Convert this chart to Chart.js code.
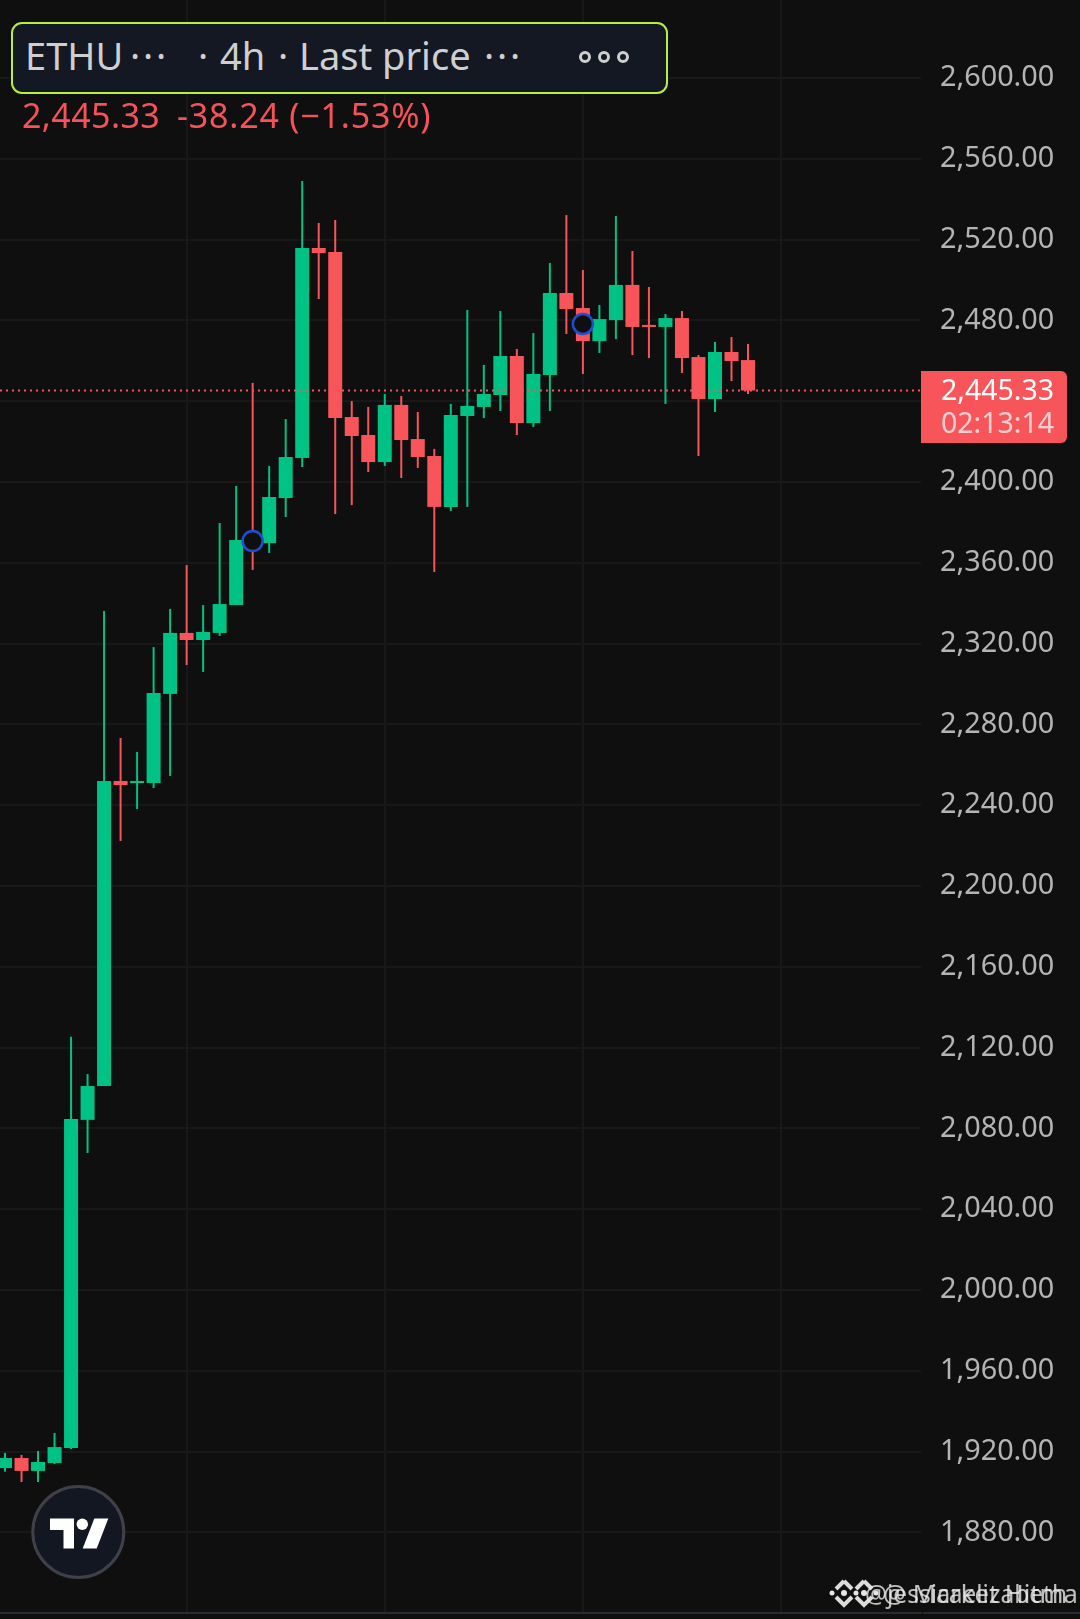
<!DOCTYPE html>
<html>
<head>
<meta charset="utf-8">
<title>ETHUSDT 4h</title>
<script src="https://cdn.jsdelivr.net/npm/chart.js@4"></script>
<style>
    html, body { margin: 0; padding: 0; background: #0f0f0f; }
    #wrap { position: relative; width: 1080px; height: 1619px; overflow: hidden; font-family: "Noto Sans", sans-serif; }
    #priceChart { position: absolute; left: 0; top: 0; }
    .abs { position: absolute; white-space: nowrap; }
    #titleBox { left: 11px; top: 22px; width: 653px; height: 68px; background: #131822; border: 2px solid #b5f03c; border-radius: 11px; }
    .title { color: #cfcfcf; font-size: 38px; line-height: 50px; top: 30px; }
    .ring { width: 6px; height: 6px; top: 51px; border: 3px solid #cfcfcf; border-radius: 50%; }
    .change { color: #f7525a; font-size: 34px; line-height: 44px; top: 93px; }
    #tag { left: 921px; top: 371px; width: 146px; height: 72px; background: #f7555a; border-radius: 0 6px 6px 0; }
    .tagText { left: 941px; font-size: 28.5px; line-height: 34px; }
    .mark { color: #ececec; font-size: 26px; line-height: 34px; top: 1577px; font-family: "Noto Sans", sans-serif; }
    #axisEnd { left: 923px; right: 0; top: 1612px; height: 2px; background: #2a2a30; }
</style>
</head>
<body>
<div id="wrap">
    <canvas id="priceChart" width="1080" height="1619"></canvas>

    <div id="titleBox" class="abs"></div>
    <div class="abs title" style="left:25px">ETHU</div>
    <div class="abs title" style="left:130px;letter-spacing:2.8px">···</div>
    <div class="abs title" style="left:198px">·</div>
    <div class="abs title" style="left:220px">4h</div>
    <div class="abs title" style="left:278px">·</div>
    <div class="abs title" style="left:299px">Last price</div>
    <div class="abs title" style="left:484px;letter-spacing:2.8px">···</div>
    <div class="abs ring" style="left:579px"></div>
    <div class="abs ring" style="left:598px"></div>
    <div class="abs ring" style="left:617px"></div>

    <div class="abs change" style="left:22px;letter-spacing:.4px">2,445.33</div>
    <div class="abs change" style="left:177px;letter-spacing:.8px">-38.24 (−1.53%)</div>

    <div id="tag" class="abs"></div>
    <div class="abs tagText" style="top:372px;color:#fff">2,445.33</div>
    <div class="abs tagText" style="top:405px;color:rgba(255,255,255,.72)">02:13:14</div>

    <div id="axisEnd" class="abs"></div>

    <svg class="abs" style="left:0;top:1480px" width="160" height="110" viewBox="0 1480 160 110">
        <circle cx="78.3" cy="1532" r="45.5" fill="#131722" stroke="#3f4048" stroke-width="3"/>
        <path d="M50 1518.5H74V1548.5H63.5V1530H50Z" fill="#fff"/>
        <circle cx="82.3" cy="1524.3" r="5.7" fill="#fff"/>
        <path d="M94.3 1518.5H108.3L96.7 1548.5H82.7Z" fill="#fff"/>
    </svg>

    <svg class="abs" style="left:828px;top:1575px" width="70" height="36" viewBox="0 0 70 36">
        <g fill="none" stroke="#dcdcdc" stroke-width="4">
            <path d="M16 6L8 14M16 6L24 14M8 22L16 30L24 22"/>
            <path d="M36 6L28 14M36 6L44 14M28 22L36 30L44 22"/>
        </g>
        <g fill="#e6e6e6">
            <circle cx="16" cy="18" r="3"/><circle cx="4" cy="18" r="2.5"/><circle cx="28" cy="18" r="2.5"/>
            <circle cx="36" cy="18" r="3"/><circle cx="48" cy="18" r="2.5"/>
        </g>
    </svg>
    <div class="abs mark" style="left:865px;opacity:.8;font-size:24.5px">@jessicaelizabeth</div>
    <div class="abs mark" style="left:883px;opacity:.8;font-size:25.6px">@ Market Hitmah</div>
</div>

<script>
    const candleIndex = [0, 1, 2, 3, 4, 5, 6, 7, 8, 9, 10, 11, 12, 13, 14, 15, 16, 17, 18, 19, 20, 21, 22,
        23, 24, 25, 26, 27, 28, 29, 30, 31, 32, 33, 34, 35, 36, 37, 38, 39, 40, 41, 42, 43, 44, 45];

    const opens = [1911.8, 1916.8, 1910.4, 1914.3, 1921.8, 2084.2, 2101.0, 2252.0, 2251.0, 2251.0, 2295.1, 2325.3,
        2321.8, 2325.3, 2339.1, 2374.3, 2369.8, 2392.1, 2411.9, 2515.9, 2513.9, 2432.2, 2423.3, 2409.9, 2438.2,
        2421.3, 2412.9, 2387.7, 2432.7, 2437.2, 2443.1, 2462.4, 2429.2, 2453.0, 2493.6, 2486.2, 2469.8, 2480.2,
        2497.6, 2477.8, 2476.8, 2481.2, 2461.9, 2441.1, 2464.4, 2460.4];
    const highs = [1919.3, 1918.3, 1920.3, 1929.2, 2125.4, 2106.9, 2336.2, 2273.3, 2266.4, 2318.3, 2337.2, 2358.9,
        2339.1, 2379.7, 2398.1, 2449.1, 2408.0, 2431.2, 2549.1, 2528.3, 2529.8, 2440.1, 2437.2, 2443.6, 2442.6,
        2434.7, 2416.4, 2438.7, 2485.2, 2458.0, 2484.7, 2465.9, 2473.8, 2508.5, 2532.2, 2505.0, 2487.7, 2531.7,
        2514.4, 2496.6, 2483.2, 2484.7, 2462.9, 2469.4, 2471.8, 2468.4];
    const lows = [1910.0, 1904.9, 1904.9, 1913.8, 1921.3, 2067.8, 2101.0, 2222.3, 2238.1, 2248.5, 2254.5, 2309.4,
        2306.0, 2323.8, 2339.1, 2356.5, 2364.9, 2382.7, 2407.5, 2490.6, 2384.2, 2388.6, 2405.0, 2408.0, 2402.0,
        2407.0, 2355.5, 2385.7, 2387.7, 2431.7, 2435.2, 2423.3, 2427.3, 2435.2, 2473.3, 2453.5, 2463.9, 2470.8,
        2462.9, 2461.4, 2438.7, 2454.0, 2412.9, 2434.7, 2450.0, 2443.6];
    const closes = [1916.8, 1910.4, 1914.8, 1922.2, 2084.6, 2101.0, 2252.0, 2250.0, 2252.0, 2295.6, 2325.3, 2321.8,
        2325.8, 2339.6, 2371.3, 2368.3, 2392.6, 2412.4, 2515.9, 2513.4, 2431.7, 2422.8, 2409.9, 2438.2, 2420.8,
        2412.4, 2387.7, 2433.2, 2437.7, 2443.6, 2462.4, 2429.2, 2453.5, 2493.6, 2485.7, 2469.8, 2480.7, 2497.6,
        2476.8, 2476.8, 2481.2, 2461.4, 2441.1, 2464.4, 2459.9, 2445.33];

    const priceTicks = [2600, 2560, 2520, 2480, 2440, 2400, 2360, 2320, 2280, 2240, 2200, 2160, 2120, 2080,
        2040, 2000, 1960, 1920, 1880];
    const timeTicks = [11, 23, 35, 47];
    const markerIndex = [15, 35];
    const markerPrice = [2370.8, 2478.3];
    const lastPrice = 2445.33;

    const upColor = "#00c285";
    const downColor = "#f7555a";
    const gridColor = "#181818";

    // visible window of the axes, taken from the gridline spacing in the picture
    const xMin = -0.303, xMax = 55.478;
    const yMin = 1840.05, yMax = 2638.68;

    const barColors = candleIndex.map(i => closes[i] >= opens[i] ? upColor : downColor);

    new Chart(document.getElementById("priceChart").getContext("2d"), {
        data: {
            datasets: [
                {
                    type: "bar",
                    label: "Wicks",
                    data: candleIndex.map(i => ({ x: i, y: [lows[i], highs[i]] })),
                    backgroundColor: barColors,
                    barThickness: 2,
                    grouped: false,
                    inflateAmount: 0,
                    order: 4
                },
                {
                    type: "bar",
                    label: "Bodies",
                    data: candleIndex.map(i => ({ x: i, y: [opens[i], closes[i]] })),
                    backgroundColor: barColors,
                    barThickness: 14,
                    grouped: false,
                    inflateAmount: 0,
                    order: 3
                },
                {
                    type: "line",
                    label: "Last price",
                    data: [{ x: xMin, y: lastPrice }, { x: xMax, y: lastPrice }],
                    borderColor: downColor,
                    borderWidth: 2,
                    borderDash: [2, 4],
                    pointRadius: 0,
                    order: 2
                },
                {
                    type: "scatter",
                    label: "Markers",
                    data: markerIndex.map((x, i) => ({ x: x, y: markerPrice[i] })),
                    pointRadius: 10,
                    pointBorderWidth: 2.5,
                    pointBorderColor: "#1f4fd1",
                    pointBackgroundColor: "#0f0f0f",
                    order: 1
                }
            ]
        },
        options: {
            responsive: false,
            animation: false,
            events: [],
            layout: { padding: 0, autoPadding: false },
            plugins: {
                legend: { display: false },
                tooltip: { enabled: false }
            },
            scales: {
                x: {
                    type: "linear",
                    offset: false,
                    min: xMin,
                    max: xMax,
                    afterBuildTicks: scale => { scale.ticks = timeTicks.map(v => ({ value: v })); },
                    afterFit: scale => { scale.height = 6; },
                    ticks: { display: false },
                    grid: { color: gridColor, lineWidth: 2, drawTicks: false, offset: false },
                    border: { display: true, color: "#2a2a30", width: 2 }
                },
                y: {
                    type: "linear",
                    position: "right",
                    min: yMin,
                    max: yMax,
                    afterBuildTicks: scale => { scale.ticks = priceTicks.map(v => ({ value: v })); },
                    afterFit: scale => {
                        scale.width = 159;
                        scale.paddingTop = 0;
                        scale.paddingBottom = 0;
                    },
                    ticks: {
                        color: "#b4b4b4",
                        padding: 19,
                        font: { family: "Noto Sans", size: 28.8 },
                        callback: v => v.toLocaleString("en-US", { minimumFractionDigits: 2, maximumFractionDigits: 2 })
                    },
                    grid: { color: gridColor, lineWidth: 2, drawTicks: false },
                    border: { display: false }
                }
            }
        }
    });
</script>
</body>
</html>
